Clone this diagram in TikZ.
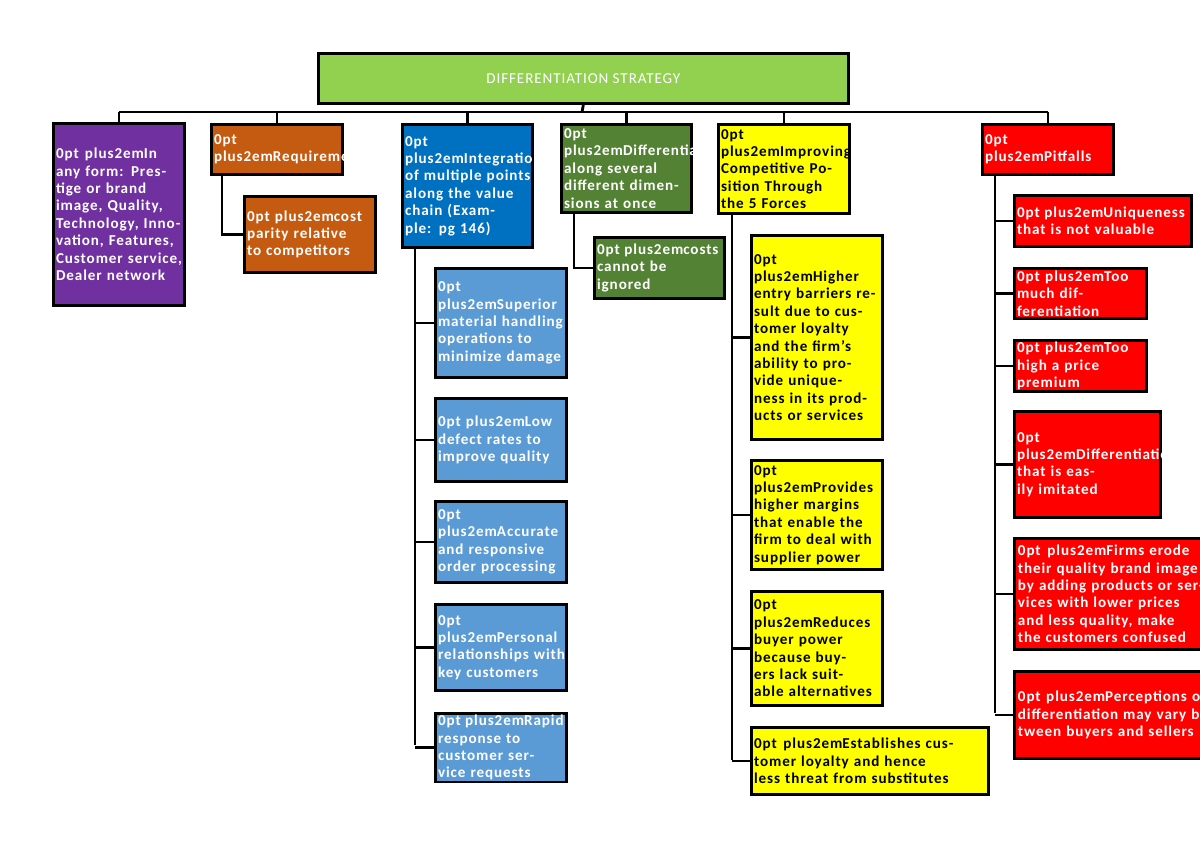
\documentclass[tikz,border=0pt]{standalone}
\usepackage{fontspec}
\setmainfont{Carlito}[LetterSpace=6]
\begin{document}
\begin{tikzpicture}[x=0.02cm,y=-0.02cm,
 bx/.style={draw=black,line width=1.6pt,align=center,inner sep=1pt,font=\bfseries\fontsize{8.6}{9.9}\selectfont\hyphenpenalty=10000\exhyphenpenalty=10000,anchor=north west},
 ln/.style={draw=black,line width=1.6pt}]
\useasboundingbox (0,0) rectangle (1200,848);
\clip (0,0) rectangle (1200,848);
\fill[white] (0,0) rectangle (1200,848);
\node[bx,fill={rgb,255:red,146;green,208;blue,80},text=white,minimum width=10.6cm,minimum height=1cm,font=\fontsize{8.6}{10}\selectfont] (T) at (317,52) {DIFFERENTIATION STRATEGY};
\tikzset{mk/.style n args={4}{bx,minimum width=#1*0.02cm,minimum height=#2*0.02cm,text width=#1*0.02cm-3pt,fill=#3,text=#4}}
\definecolor{pur}{RGB}{112,48,160}\definecolor{org}{RGB}{197,90,17}\definecolor{dbl}{RGB}{0,112,192}
\definecolor{dgr}{RGB}{84,130,53}\definecolor{lbl}{RGB}{91,155,213}\definecolor{yel}{RGB}{255,255,0}\definecolor{rd}{RGB}{255,0,0}
\node[mk={131}{182}{pur}{white}] (P) at (52,122) {In any form: Prestige or brand image, Quality, Technology, Innovation, Features, Customer service, Dealer network};
\node[mk={131}{50}{org}{white}] (R) at (210,123) {Requirements};
\node[mk={131}{76}{org}{white}] (R1) at (243,195) {cost parity relative to competitors};
\node[mk={130}{123}{dbl}{white}] (I) at (401,123) {Integration of multiple points along the value chain (Example: pg 146)};
\node[mk={130}{88}{dgr}{white}] (D) at (560,123) {Differentiation along several different dimensions at once};
\node[mk={130}{61}{dgr}{white}] (D1) at (593,236) {costs cannot be ignored};
\node[mk={131}{89}{yel}{black}] (C) at (717,123) {Improving Competitive Position Through the 5 Forces};
\node[mk={131}{50}{rd}{white}] (F) at (981,123) {Pitfalls};
\node[mk={131}{109}{lbl}{white}] (B1) at (434,267) {Superior material handling operations to minimize damage};
\node[mk={131}{83}{lbl}{white}] (B2) at (434,397) {Low defect rates to improve quality};
\node[mk={131}{81}{lbl}{white}] (B3) at (434,500) {Accurate and responsive order processing};
\node[mk={131}{86}{lbl}{white}] (B4) at (434,603) {Personal relationships with key customers};
\node[mk={131}{68}{lbl}{white}] (B5) at (434,712) {Rapid response to customer service requests};
\node[mk={131}{204}{yel}{black}] (Y1) at (750,234) {Higher entry barriers result due to customer loyalty and the firm’s ability to provide uniqueness in its products or services};
\node[mk={131}{109}{yel}{black}] (Y2) at (750,459) {Provides higher margins that enable the firm to deal with supplier power};
\node[mk={131}{114}{yel}{black}] (Y3) at (750,590) {Reduces buyer power because buyers lack suitable alternatives};
\node[mk={237}{67}{yel}{black}] (Y4) at (750,726) {Establishes customer loyalty and hence less threat from substitutes};
\node[mk={177}{51}{rd}{white}] (X1) at (1013,194) {Uniqueness that is not valuable};
\node[mk={132}{50}{rd}{white}] (X2) at (1013,267) {Too much differentiation};
\node[mk={132}{50}{rd}{white}] (X3) at (1013,339) {Too high a price premium};
\node[mk={146}{106}{rd}{white}] (X4) at (1013,410) {Differentiation that is easily imitated};
\node[mk={212}{111}{rd}{white},text width=4.1cm] (X5) at (1013,537) {Firms erode their quality brand image by adding products or services with lower prices and less quality, make the customers confused};
\node[mk={212}{87}{rd}{white},text width=4.1cm] (X6) at (1013,670) {Perceptions of differentiation may vary between buyers and sellers};
\draw[ln] (T.south) -- (582,112);
\draw[ln] (P.north |- 0,112) -- (F.north |- 0,112);
\foreach \n in {P,R,I,D,C,F} \draw[ln] (\n.north |- 0,112) -- (\n.north);
\draw[ln] (R.south -| 222,0) |- (R1.west);
\draw[ln] (D.south -| 574,0) |- (D1.west);
\draw[ln] (I.south -| 415,0) -- (415,745);
\foreach \n in {B1,B2,B3,B4,B5} \draw[ln] (\n.west -| 415,0) -- (\n.west);
\draw[ln] (C.south -| 732,0) -- (732,760);
\foreach \n in {Y1,Y2,Y3,Y4} \draw[ln] (\n.west -| 732,0) -- (\n.west);
\draw[ln] (F.south -| 995,0) -- (995,713);
\foreach \n in {X1,X2,X3,X4,X5,X6} \draw[ln] (\n.west -| 995,0) -- (\n.west);
\end{tikzpicture}
\end{document}
